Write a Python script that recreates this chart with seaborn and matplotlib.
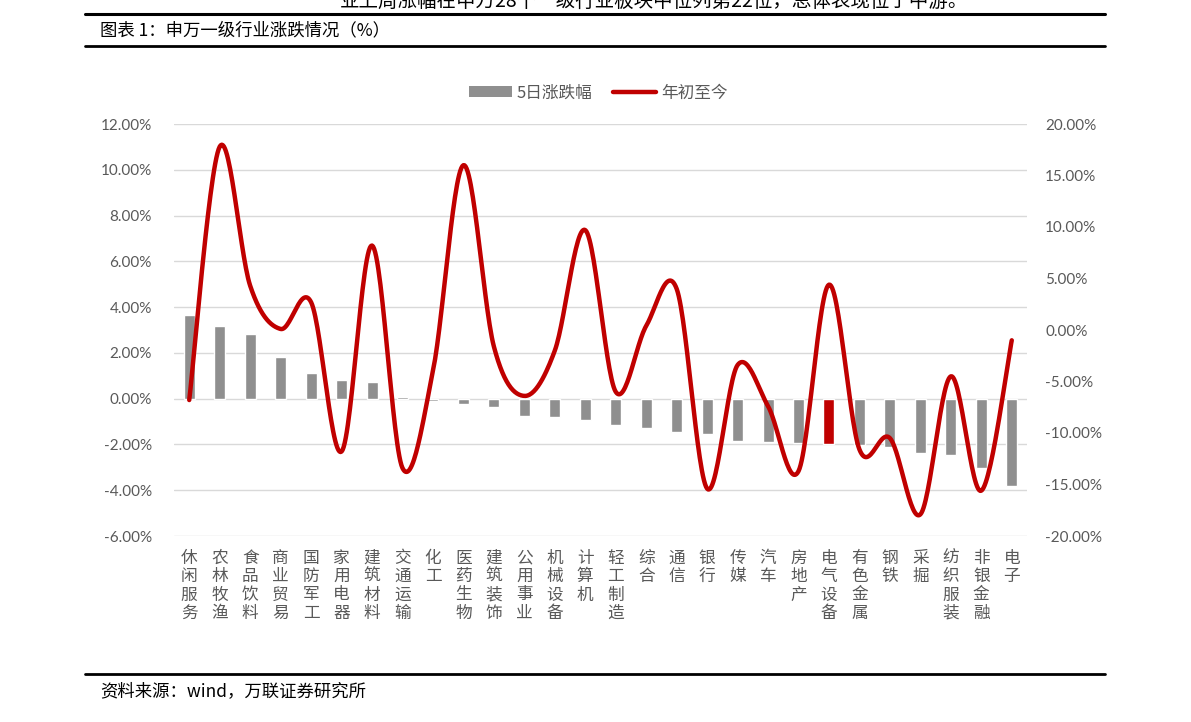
import numpy as np
import pandas as pd
import seaborn as sns
import matplotlib.pyplot as plt
from matplotlib.lines import Line2D
from matplotlib.patches import Patch

# ---- data ----
industries = ['休闲服务', '农林牧渔', '食品饮料', '商业贸易', '国防军工', '家用电器', '建筑材料',
              '交通运输', '化工', '医药生物', '建筑装饰', '公用事业', '机械设备', '计算机',
              '轻工制造', '综合', '通信', '银行', '传媒', '汽车', '房地产', '电气设备',
              '有色金属', '钢铁', '采掘', '纺织服装', '非银金融', '电子']
week_chg = [3.67, 3.19, 2.84, 1.83, 1.14, 0.83, 0.74, 0.06, -0.10, -0.25, -0.35, -0.77, -0.82, -0.92,
            -1.15, -1.28, -1.47, -1.56, -1.86, -1.91, -1.95, -1.98, -2.01, -2.13, -2.36, -2.48, -3.05, -3.83]
ytd_chg = [-6.8, 17.8, 4.3, 0.1, 2.7, -11.8, 8.2, -13.4, -4.0, 16.0, -1.6, -6.4, -2.0, 9.7,
           -6.0, 0.4, 4.0, -15.4, -3.4, -7.4, -13.7, 4.4, -11.6, -10.5, -17.9, -4.5, -15.6, -1.0]
highlight = '电气设备'
left_ticks = [-6, -4, -2, 0, 2, 4, 6, 8, 10, 12]
right_ticks = [-20, -15, -10, -5, 0, 5, 10, 15, 20]

GRAY = '#8f8f8f'
RED = '#c00000'
TXT = '#595959'

sns.set_theme(style='white')
plt.rcParams['font.family'] = ['Noto Sans CJK SC', 'DejaVu Sans']

df = pd.DataFrame({'行业': industries, '5日涨跌幅': week_chg, '年初至今': ytd_chg})
pal = {k: (RED if k == highlight else GRAY) for k in industries}

fig = plt.figure(figsize=(11.91, 7.22), dpi=100)
ax = fig.add_axes([174 / 1191, 186 / 722, 853 / 1191, 412 / 722])

sns.barplot(data=df, x='行业', y='5日涨跌幅', hue='行业', palette=pal, legend=False,
            width=0.36, saturation=1, ax=ax)
ax.set_xlim(-0.5, len(industries) - 0.5)
ax.set_ylim(-6, 12)
ax.set_yticks(left_ticks)
ax.set_yticklabels([f'{v:.2f}%' for v in left_ticks], family='Lato', fontsize=11, color=TXT)
ax.grid(axis='y', color='#d9d9d9', linewidth=1)
ax.set_axisbelow(True)
ax.set_xlabel('')
ax.set_ylabel('')
ax.set_xticks(range(len(industries)))
ax.set_xticklabels(['\n'.join(s) for s in industries], fontsize=12, color=TXT,
                   linespacing=1.1, va='top')
ax.tick_params(axis='x', length=0, pad=10)
ax.tick_params(axis='y', length=0, pad=16)
for s in ax.spines.values():
    s.set_visible(False)

# smoothed line (Catmull-Rom through the points, like Excel's smooth line)
ax2 = ax.twinx()
xs = np.arange(len(ytd_chg), dtype=float)
ys = np.array(ytd_chg, dtype=float)
P = np.column_stack([xs, ys])
P = np.vstack([P[0], P, P[-1]])
curve = []
t = np.linspace(0, 1, 30)[:, None]
for i in range(1, len(P) - 2):
    p0, p1, p2, p3 = P[i - 1], P[i], P[i + 1], P[i + 2]
    c1 = p1 + (p2 - p0) / 6
    c2 = p2 - (p3 - p1) / 6
    seg = ((1 - t) ** 3) * p1 + 3 * ((1 - t) ** 2) * t * c1 + 3 * (1 - t) * t ** 2 * c2 + t ** 3 * p2
    curve.append(seg)
curve = np.vstack(curve)
ax2.plot(curve[:, 0], curve[:, 1], color=RED, linewidth=3.2, solid_capstyle='round')
ax2.set_ylim(-20, 20)
ax2.set_yticks(right_ticks)
ax2.set_yticklabels([f'{v:.2f}%' for v in right_ticks], family='Lato', fontsize=11, color=TXT)
ax2.tick_params(axis='y', length=0, pad=13)
ax2.grid(False)
for s in ax2.spines.values():
    s.set_visible(False)

handles = [Patch(facecolor=GRAY, edgecolor='none', label='5日涨跌幅'),
           Line2D([0], [0], color=RED, linewidth=3.2, label='年初至今')]
leg = fig.legend(handles=handles, loc='center', bbox_to_anchor=(598 / 1191, 1 - 93 / 722), ncol=2,
                 frameon=False, fontsize=12, handlelength=2.6, handleheight=0.6, columnspacing=1.2,
                 handletextpad=0.3)
for tx in leg.get_texts():
    tx.set_color(TXT)

# page decorations: header and footer
def hline(y, lw):
    fig.add_artist(Line2D([85 / 1191, 1105 / 1191], [1 - y / 722, 1 - y / 722],
                          transform=fig.transFigure, color='black', linewidth=lw))

hline(13.5, 2.2)
hline(46, 2.0)
hline(674, 2.0)
# paragraph text running off the top of the page, as in the source screenshot
fig.text(340 / 1191, 1 - 1 / 722, '业上周涨幅在申万28个一级行业板块中位列第22位，总体表现位于中游。',
         fontsize=14, color='black', va='center', ha='left')
fig.text(100 / 1191, 1 - 30 / 722, '图表 1：申万一级行业涨跌情况（%）', fontsize=12.5,
         color='black', va='center', ha='left')
fig.text(100 / 1191, 1 - 691 / 722, '资料来源：wind，万联证券研究所', fontsize=12.5,
         color='black', va='center', ha='left', style='italic')

fig.savefig('out.png', dpi=100)
